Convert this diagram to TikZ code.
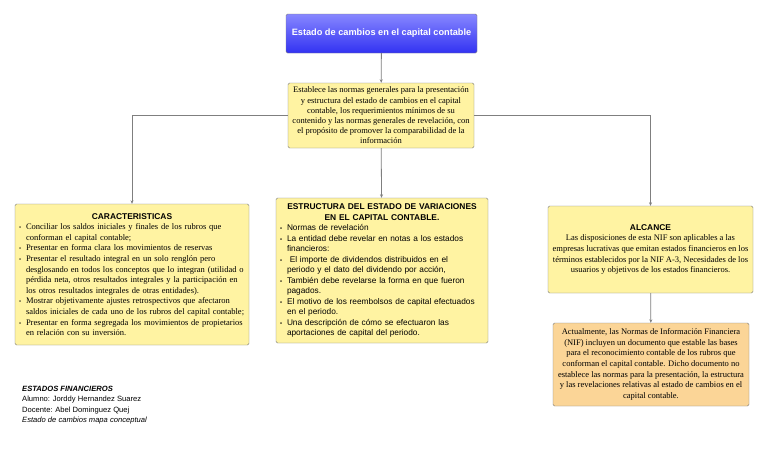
\documentclass[tikz,border=0pt]{standalone}
\usepackage{fontspec}
\setmainfont{Liberation Serif}
\setsansfont{Liberation Sans}
\usetikzlibrary{arrows.meta,positioning}
\definecolor{boxfill}{HTML}{FFF3A2}
\definecolor{notefill}{HTML}{FBD597}
\definecolor{titletop}{HTML}{8787FF}
\definecolor{titlebot}{HTML}{3232F2}
\definecolor{edge}{HTML}{7F7F7F}
\newcommand{\hd}[1]{\makebox[\hsize][c]{\sffamily\bfseries\fontsize{8.4}{10.6}\selectfont #1}}
\newcommand{\itm}[1]{\makebox[7pt][l]{\scalebox{0.7}{\textbullet}}#1}
\newcommand{\cnt}[1]{\hspace*{7pt}#1}

\begin{document}
\begin{tikzpicture}[x=1pt, y=-1pt,
  box/.style={draw=edge, rounded corners=1.5pt, inner sep=4pt, fill=boxfill},
  conn/.style={draw=edge, thick, -{Stealth[length=3.5pt,width=3pt]}},
  serif/.style={font=\fontsize{8.5}{10.6}\selectfont},
  sans/.style={font=\sffamily\fontsize{8.3}{10.5}\selectfont}]
  \useasboundingbox[fill=white] (0,0) rectangle (768,451);

  \node[box, fill=none, top color=titletop, bottom color=titlebot, minimum width=191pt,
    minimum height=39pt, text=white, font=\sffamily\bfseries\fontsize{9.2}{11}\selectfont]
    (titulo) at (381.5,33.5) {Estado de cambios en el capital contable};

  \node[box, minimum width=186pt, minimum height=65pt, inner sep=2pt, align=center,
    font=\fontsize{8.5}{10.2}\selectfont] (norma) at (381,115.5)
    {Establece las normas generales para la presentación\\
     y estructura del estado de cambios en el capital\\
     contable, los requerimientos mínimos de su\\
     contenido y las normas generales de revelación, con\\
     el propósito de promover la comparabilidad de la\\
     información};

  \node[box, serif, minimum width=234pt, minimum height=141pt, text width=226pt, align=left]
    (caract) at (132,274.5)
    {\hd{CARACTERISTICAS}\\
     \itm{Conciliar los saldos iniciales y finales de los rubros que}\\
     \cnt{conforman el capital contable;}\\
     \itm{Presentar en forma clara los movimientos de reservas}\\
     \itm{Presentar el resultado integral en un solo renglón pero}\\
     \cnt{desglosando en todos los conceptos que lo integran (utilidad o}\\
     \cnt{pérdida neta, otros resultados integrales y la participación en}\\
     \cnt{los otros resultados integrales de otras entidades).}\\
     \itm{Mostrar objetivamente ajustes retrospectivos que afectaron}\\
     \cnt{saldos iniciales de cada uno de los rubros del capital contable;}\\
     \itm{Presentar en forma segregada los movimientos de propietarios}\\
     \cnt{en relación con su inversión.}};

  \node[box, sans, minimum width=212pt, minimum height=145pt, text width=204pt, align=left]
    (estruc) at (382,270.5)
    {\hd{ESTRUCTURA DEL ESTADO DE VARIACIONES}\\
     \hd{EN EL CAPITAL CONTABLE.}\\
     \itm{Normas de revelación}\\
     \itm{La entidad debe revelar en notas a los estados}\\
     \cnt{financieros:}\\
     \itm{\ El importe de dividendos distribuidos en el}\\
     \cnt{periodo y el dato del dividendo por acción,}\\
     \itm{También debe revelarse la forma en que fueron}\\
     \cnt{pagados.}\\
     \itm{El motivo de los reembolsos de capital efectuados}\\
     \cnt{en el periodo.}\\
     \itm{Una descripción de cómo se efectuaron las}\\
     \cnt{aportaciones de capital del periodo.}};

  \node[box, serif, minimum width=205pt, minimum height=87pt, inner sep=2pt, align=center]
    (alcance) at (650.5,249.5)
    {{\sffamily\bfseries\fontsize{8.4}{10.6}\selectfont ALCANCE}\\
     Las disposiciones de esta NIF son aplicables a las\\
     empresas lucrativas que emitan estados financieros en los\\
     términos establecidos por la NIF A-3, Necesidades de los\\
     usuarios y objetivos de los estados financieros.};

  \node[box, serif, fill=notefill, minimum width=196pt, minimum height=83pt, inner sep=2pt,
    align=center] (actual) at (651,364.5)
    {Actualmente, las Normas de Información Financiera\\
     (NIF) incluyen un documento que estable las bases\\
     para el reconocimiento contable de los rubros que\\
     conforman el capital contable. Dicho documento no\\
     establece las normas para la presentación, la estructura\\
     y las revelaciones relativas al estado de cambios en el\\
     capital contable.};

  \node[anchor=north west, align=left, inner sep=0pt,
    font=\sffamily\fontsize{7.6}{10.4}\selectfont] (datos) at (22,386)
    {\textbf{\textit{ESTADOS FINANCIEROS}}\\
     Alumno: Jorddy Hernandez Suarez\\
     Docente: Abel Dominguez Quej\\
     \textit{Estado de cambios mapa conceptual}};

  \draw[conn] (titulo) -- (norma);
  \draw[conn] (norma.west) -| (caract.north);
  \draw[conn] (norma) -- (estruc);
  \draw[conn] (norma.east) -| (alcance.north);
  \draw[conn] (alcance) -- (actual);
\end{tikzpicture}
\end{document}
